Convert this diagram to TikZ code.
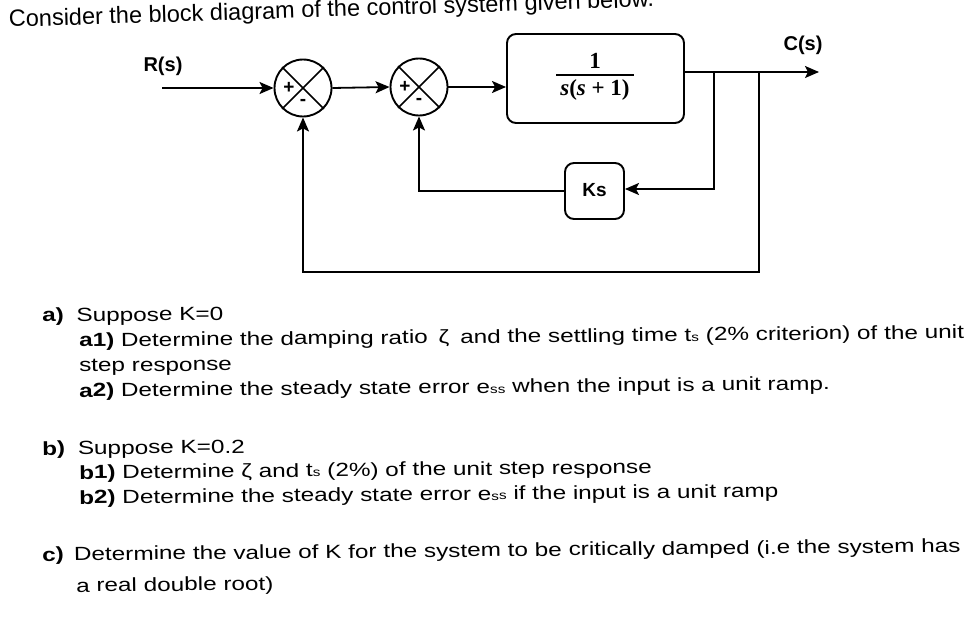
\documentclass[tikz,border=0pt]{standalone}
\usepackage{amsmath}
\usepackage{fontspec}
\setmainfont{Liberation Sans}
\newfontfamily\serifb{Liberation Serif}
\usetikzlibrary{arrows.meta}
\begin{document}
\begin{tikzpicture}[x=1pt,y=-1pt,
  wire/.style={line width=1.8pt},
  arr/.style={wire,-{Stealth[length=14pt,width=12pt,inset=3pt]}},
  sumj/.style={circle,draw,line width=1.9pt,minimum size=57pt,inner sep=0pt},
  blk/.style={draw,line width=1.9pt,rounded corners=9pt,inner sep=0pt},
  lbl/.style={font=\bfseries\fontsize{20}{22}\selectfont},
  sgn/.style={font=\bfseries\fontsize{19}{20}\selectfont,inner sep=0pt},
  txt/.style={anchor=base west,inner sep=0pt,font=\fontsize{19}{22}\selectfont,xscale=1.28,rotate=0.7}
]
\useasboundingbox (0,0) rectangle (972,623);
% title
\node[anchor=base west,inner sep=0pt,font=\fontsize{23.5}{26}\selectfont,rotate=1.8] (title) at (9,27) {Consider the block diagram of the control system given below.};
% diagram
\coordinate (in) at (162,88);
\node[sumj] (s1) at (303,88) {};
\node[sumj] (s2) at (419,87) {};
\draw[line width=1.7pt] (s1.north west) -- (s1.south east) (s1.north east) -- (s1.south west);
\draw[line width=1.7pt] (s2.north west) -- (s2.south east) (s2.north east) -- (s2.south west);
\node[sgn] (p1) at ([xshift=-14pt]s1.center) {+};
\node[sgn] (m1) at ([yshift=-14pt]s1.center) {-};
\node[sgn] (p2) at ([xshift=-14pt]s2.center) {+};
\node[sgn] (m2) at ([yshift=-14pt]s2.center) {-};
\node[blk,minimum width=177pt,minimum height=89pt] (G) at (595.5,78.5) {};
\node[font=\serifb\bfseries\fontsize{23}{26}\selectfont] (num) at (595,61) {1};
\node[font=\serifb\bfseries\fontsize{23}{26}\selectfont] (den) at (595,90) {\textit{s}(\textit{s} + 1)};
\coordinate (fl) at (556,75);
\coordinate (fr) at (634,75);
\draw[line width=1.5pt] (fl) -- (fr);
\node[blk,minimum width=59pt,minimum height=56pt] (K) at (594.5,191) {};
\node[lbl,font=\bfseries\fontsize{19}{20}\selectfont] (Ks) at (594.5,190) {Ks};
\node[lbl] (R) at (163,66) {R(s)};
\node[lbl] (C) at (803,45) {C(s)};
\coordinate (out) at (819,72);
\coordinate (b1) at (714,72);
\coordinate (b2) at (759,72);
\coordinate (k1) at (714,189);
\coordinate (k2) at (419,191);
\coordinate (o1) at (759,272);
\coordinate (o2) at (303,272);
\draw[arr] (in) -- (s1.west);
\draw[arr] (s1.east) -- (s2.west);
\draw[arr] (s2.east) -- (G.west |- s2.east);
\draw[arr] (G.east |- out) -- (out);
\draw[arr] (b1) -- (k1) -- (K.east |- k1);
\draw[arr] (K.west |- k2) -- (k2) -- (s2.south);
\draw[arr] (b2) -- (o1) -- (o2) -- (s1.south);
% questions
\node[txt] (ta) at (42,322) {\textbf{a)}\hspace{10pt}Suppose K=0};
\node[txt] (ta1) at (79,347) {\textbf{a1)} Determine the damping ratio \,ζ\, and the settling time t{\fontsize{12}{12}\selectfont s} (2\% criterion) of the unit};
\node[txt] (ta1b) at (79,372) {step response};
\node[txt] (ta2) at (79,397) {\textbf{a2)} Determine the steady state error e{\fontsize{12}{12}\selectfont ss} when the input is a unit ramp.};
\node[txt] (tb) at (42,455) {\textbf{b)}\hspace{10pt}Suppose K=0.2};
\node[txt] (tb1) at (79,479) {\textbf{b1)} Determine ζ and t{\fontsize{12}{12}\selectfont s} (2\%) of the unit step response};
\node[txt] (tb2) at (79,504) {\textbf{b2)} Determine the steady state error e{\fontsize{12}{12}\selectfont ss} if the input is a unit ramp};
\node[txt] (tc) at (42,561) {\textbf{c)}\hspace{8pt}Determine the value of K for the system to be critically damped (i.e the system has};
\node[txt] (tc2) at (76,592) {a real double root)};
\end{tikzpicture}
\end{document}
